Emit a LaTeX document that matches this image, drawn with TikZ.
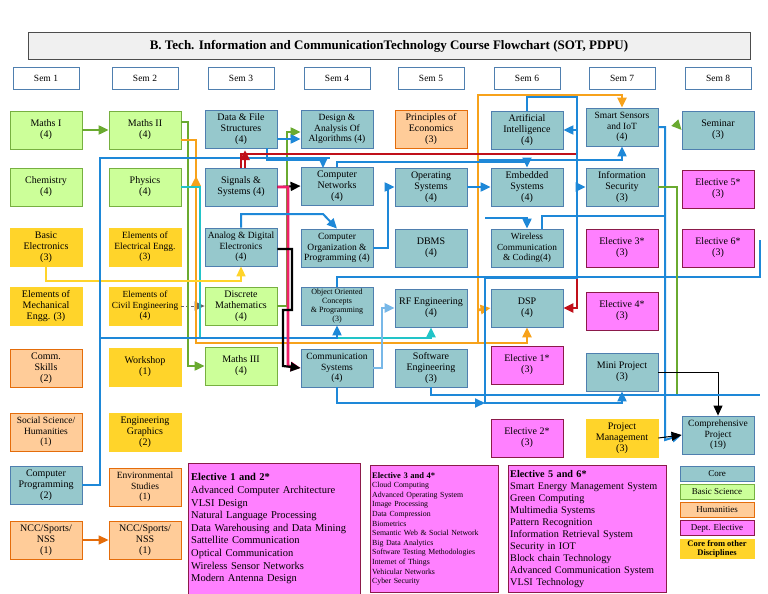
\documentclass[tikz,border=0pt]{standalone}
\usepackage{fontspec}
\setmainfont{Liberation Serif}
\usetikzlibrary{arrows.meta}
\definecolor{coref}{HTML}{96C8CC}\definecolor{cored}{HTML}{4F7FAF}
\definecolor{bsf}{HTML}{CCFF99}\definecolor{bsd}{HTML}{77B040}
\definecolor{huf}{HTML}{FFCC99}\definecolor{hud}{HTML}{E46C0A}
\definecolor{def}{HTML}{FF80FF}\definecolor{ded}{HTML}{8B1A4A}
\definecolor{otf}{HTML}{FFD42A}
\definecolor{lblue}{HTML}{1E88D8}\definecolor{lor}{HTML}{F7A21B}
\definecolor{lcy}{HTML}{22C4C8}\definecolor{lgr}{HTML}{6AAA30}
\definecolor{lred}{HTML}{C0101A}\definecolor{lpk}{HTML}{F0206A}
\tikzset{
 bx/.style={draw, line width=0.8pt, minimum width=72pt, minimum height=38pt, align=center, inner sep=1pt, font=\fontsize{10}{11}\selectfont},
 core/.style={bx, fill=coref, draw=cored},
 bsc/.style={bx, fill=bsf, draw=bsd},
 hum/.style={bx, fill=huf, draw=hud},
 dep/.style={bx, fill=def, draw=ded},
 oth/.style={bx, fill=otf, draw=otf},
 sem/.style={draw=cored, fill=white, minimum width=66pt, minimum height=22pt, font=\fontsize{9.5}{10}\selectfont},
 leg/.style={draw, minimum width=74pt, minimum height=15pt, inner sep=1pt, font=\fontsize{9}{9}\selectfont, align=center},
 ar/.style={-{Triangle[length=10pt,width=9pt]}, line width=2pt},
 lst/.style={draw=ded, fill=def, anchor=north west, align=left, inner sep=3pt}
}
\begin{document}
\begin{tikzpicture}[x=1pt,y=-1pt]
\useasboundingbox (0,0) rectangle (768,594);
\fill[white] (0,0) rectangle (768,594);
\node[draw=black!70, fill=black!6, minimum width=722pt, minimum height=27pt, font=\bfseries\fontsize{13}{14}\selectfont] (title) at (389,46) {B. Tech. Information and CommunicationTechnology Course Flowchart (SOT, PDPU)};
\foreach \i/\x in {1/46,2/145,3/241,4/337,5/431,6/527,7/622,8/718}{
  \node[sem] (s\i) at (\x,78) {Sem \i};}
% column 1
\node[bsc] (m1) at (46,130) {Maths I\\(4)};
\node[bsc] (chem) at (46,187) {Chemistry\\(4)};
\node[oth] (be) at (46,247) {Basic\\Electronics\\(3)};
\node[oth] (mech) at (46,306) {Elements of\\Mechanical\\Engg. (3)};
\node[hum] (cs) at (46,368) {Comm.\\Skills\\(2)};
\node[hum, font=\fontsize{9.5}{10.5}\selectfont] (ss) at (46,432) {Social Science/\\Humanities\\(1)};
\node[core] (cp) at (46,485) {Computer\\Programming\\(2)};
\node[hum] (ncc1) at (46,540) {NCC/Sports/\\NSS\\(1)};
% column 2
\node[bsc] (m2) at (145,130) {Maths II\\(4)};
\node[bsc] (phy) at (145,187) {Physics\\(4)};
\node[oth, font=\fontsize{9.5}{10.5}\selectfont] (eee) at (145,247) {Elements of\\Electrical Engg.\\(3)};
\node[oth, font=\fontsize{9.3}{10.5}\selectfont] (civ) at (145,306) {Elements of\\Civil Engineering\\(4)};
\node[oth] (ws) at (145,367) {Workshop\\(1)};
\node[oth] (eg) at (145,432) {Engineering\\Graphics\\(2)};
\node[hum, font=\fontsize{9.5}{10.5}\selectfont] (env) at (145,487) {Environmental\\Studies\\(1)};
\node[hum] (ncc2) at (145,540) {NCC/Sports/\\NSS\\(1)};
% column 3
\node[core] (dfs) at (241,129) {Data \& File\\Structures\\(4)};
\node[core] (sig) at (241,187) {Signals \&\\Systems (4)};
\node[core, font=\fontsize{9.5}{10.5}\selectfont] (ade) at (241,247) {Analog \& Digital\\Electronics\\(4)};
\node[bsc] (dm) at (241,306) {Discrete\\Mathematics\\(4)};
\node[bsc] (m3) at (241,366) {Maths III\\(4)};
% column 4
\node[core, font=\fontsize{9.5}{10.5}\selectfont] (daa) at (337,129) {Design \&\\Analysis Of\\Algorithms (4)};
\node[core] (cn) at (337,186) {Computer\\Networks\\(4)};
\node[core, font=\fontsize{9.5}{10.5}\selectfont] (co) at (337,248) {Computer\\Organization \&\\Programming (4)};
\node[core, font=\fontsize{8}{8.8}\selectfont] (oop) at (337,306) {Object Oriented\\Concepts\\\& Programming\\(3)};
\node[core, font=\fontsize{9.5}{10.5}\selectfont] (com) at (337,368) {Communication\\Systems\\(4)};
% column 5
\node[hum] (eco) at (431,129) {Principles of\\Economics\\(3)};
\node[core] (os) at (431,187) {Operating\\Systems\\(4)};
\node[core] (db) at (431,248) {DBMS\\(4)};
\node[core] (rf) at (431,308) {RF Engineering\\(4)};
\node[core] (se) at (431,368) {Software\\Engineering\\(3)};
% column 6
\node[core] (ai) at (527,130) {Artificial\\Intelligence\\(4)};
\node[core] (emb) at (527,187) {Embedded\\Systems\\(4)};
\node[core, font=\fontsize{9.3}{10.5}\selectfont] (wcc) at (527,248) {Wireless\\Communication\\\& Coding(4)};
\node[core] (dsp) at (527,308) {DSP\\(4)};
\node[dep] (e1) at (527,365) {Elective 1*\\(3)};
\node[dep] (e2) at (527,438) {Elective 2*\\(3)};
% column 7
\node[core, font=\fontsize{9.5}{10.5}\selectfont] (iot) at (622,127) {Smart Sensors\\and IoT\\(4)};
\node[core] (is) at (622,187) {Information\\Security\\(3)};
\node[dep] (e3) at (622,248) {Elective 3*\\(3)};
\node[dep] (e4) at (622,311) {Elective 4*\\(3)};
\node[core] (mini) at (622,372) {Mini Project\\(3)};
\node[oth] (pm) at (622,438) {Project\\Management\\(3)};
% column 8
\node[core] (sem) at (718,130) {Seminar\\(3)};
\node[dep] (e5) at (718,189) {Elective 5*\\(3)};
\node[dep] (e6) at (718,248) {Elective 6*\\(3)};
\node[core, font=\fontsize{9.5}{10.5}\selectfont] (cmp) at (718,435) {Comprehensive\\Project\\(19)};
% legend
\node[leg, fill=coref, draw=cored] (l1) at (717,474) {Core};
\node[leg, fill=bsf, draw=bsd] (l2) at (717,492) {Basic Science};
\node[leg, fill=huf, draw=hud] (l3) at (717,510) {Humanities};
\node[leg, fill=def, draw=ded] (l4) at (717,528) {Dept. Elective};
\node[leg, fill=otf, draw=otf, font=\bfseries\fontsize{8.5}{9.5}\selectfont] (l5) at (717,549) {Core from other\\Disciplines};
% elective lists
\node[lst, text width=166pt, minimum height=131pt, font=\fontsize{10.5}{12.6}\selectfont] (el1) at (188,463) {\textbf{Elective 1 and 2*}\\Advanced Computer Architecture\\VLSI Design\\Natural Language Processing\\Data Warehousing and Data Mining\\Sattellite Communication\\Optical Communication\\Wireless Sensor Networks\\Modern Antenna Design};
\node[lst, text width=124pt, minimum height=127pt, font=\fontsize{7.8}{9.6}\selectfont, inner sep=2pt] (el2) at (370,465) {\textbf{\fontsize{8.5}{8.5}\selectfont Elective 3 and 4*}\\Cloud Computing\\Advanced Operating System\\Image Processing\\Data Compression\\Biometrics\\Semantic Web \& Social Network\\Big Data Analytics\\Software Testing Methodologies\\Internet of Things\\Vehicular Networks\\Cyber Security};
\node[lst, text width=154pt, minimum height=127pt, font=\fontsize{10.2}{12}\selectfont, inner sep=2pt] (el3) at (508,465) {\textbf{Elective 5 and 6*}\\Smart Energy Management System\\Green Computing\\Multimedia Systems\\Pattern Recognition\\Information Retrieval System\\Security in IOT\\Block chain Technology\\Advanced Communication System\\VLSI Technology};
% connectors
\draw[ar, lgr] (m1) -- (m2);
\draw[ar, hud, line width=1.3pt] (ncc1) -- (ncc2);
\draw[ar, black!60, densely dashed, line width=1pt] (civ) -- (dm);
\draw[ar, lgr] (m2.east) ++(0,-8) -| (188,366) -- (m3.west);
\draw[ar, lgr] (dm.east) -- (287,306) |- ([yshift=-3pt]daa.west);
\draw[ar, lor, line width=2.6pt] ([yshift=-10pt]m2.east) -| (196,343) -- (478,343) |- (478,95) -| (iot.north);
\draw[ar, lor, line width=2.6pt] (478,310) -- (dsp.west);
\draw[ar, lor, line width=2.6pt] (478,343) -| (dsp.south);
\draw[ar, lor, line width=2.6pt] (196,205) -- (196,176);
\draw[ar, lcy, line width=2.8pt] (phy.east) -| (200,338) -| (rf.south);
\draw[ar, otf, line width=1.6pt] (be.south) -- (46,281) -| (ade.south);
\draw[lblue, line width=2pt] (cp.east) -| (100,158) -- (330,158);
\draw[ar, lblue] (100,338) -| (oop.south);
\draw[ar, lblue] ([xshift=26pt]dfs.south) |- (323,160) -- (323,168);
\draw[ar, lblue] ([yshift=-10pt]dfs.east) -- ([yshift=-10pt]daa.west);
\draw[ar, black] (sig.east) -- (cn.west);
\draw[ar, lpk, line width=2.6pt] (sig.east) -| (288,366) -- (com.west);
\draw[ar, black, line width=2.2pt] ([yshift=-2pt]ade.east) -| (292,310) -| (283,366) -- (com.west);
\draw[ar, lred, line width=2.8pt] (sig.north) |- (577,154) |- (dsp.east);
\draw[ar, lred, line width=2.6pt] (245,168) -- (245,150);
\draw[ar, lblue] (ade.north) |- (323,214) -- (co.north);
\draw[ar, lblue] (co.east) -| (388,187) -- (os.west);
\draw[ar, lblue] (os.east) -- (emb.west);
\draw[ar, lblue] (cn.north) |- (480,162) |- (560,160) -| (iot.south);
\draw[ar, lblue] (480,162) -| (emb.north);
\draw[lblue, line width=2pt] (oop.north) |- (760,277) -- (760,240);
\draw[ar, lblue] (ai.north) |- (577,97) -- (577,278) -- (485,278) |- (622,403) -- (mini.south);
\draw[ar, lblue] (577,130) -- (ai.east);
\draw[ar, lblue] (577,187) -- (is.west);
\draw[ar, lblue] (485,218) -| (wcc.north);
\draw[lblue, line width=2pt] ([xshift=15pt]wcc.north) |- (665,216);
\draw[ar, lblue] (iot.east) -| (665,440) -- (cmp.west);
\draw[lgr, line width=2pt] (is.east) -| (677,395);
\draw[ar, lgr] (677,125) -- (sem.west);
\draw[ar, black, line width=1pt] (mini.east) -| (cmp.north);
\draw[ar, black, line width=1pt] (pm.east) -- (cmp.west);
\draw[ar, lblue] (com.south) |- (485,403);
\draw[lblue, line width=2pt] (se.south) |- (760,395);
\draw[ar, lblue!60, line width=2.6pt] (com.east) -| (382,308) -- (rf.west);
\end{tikzpicture}
\end{document}
